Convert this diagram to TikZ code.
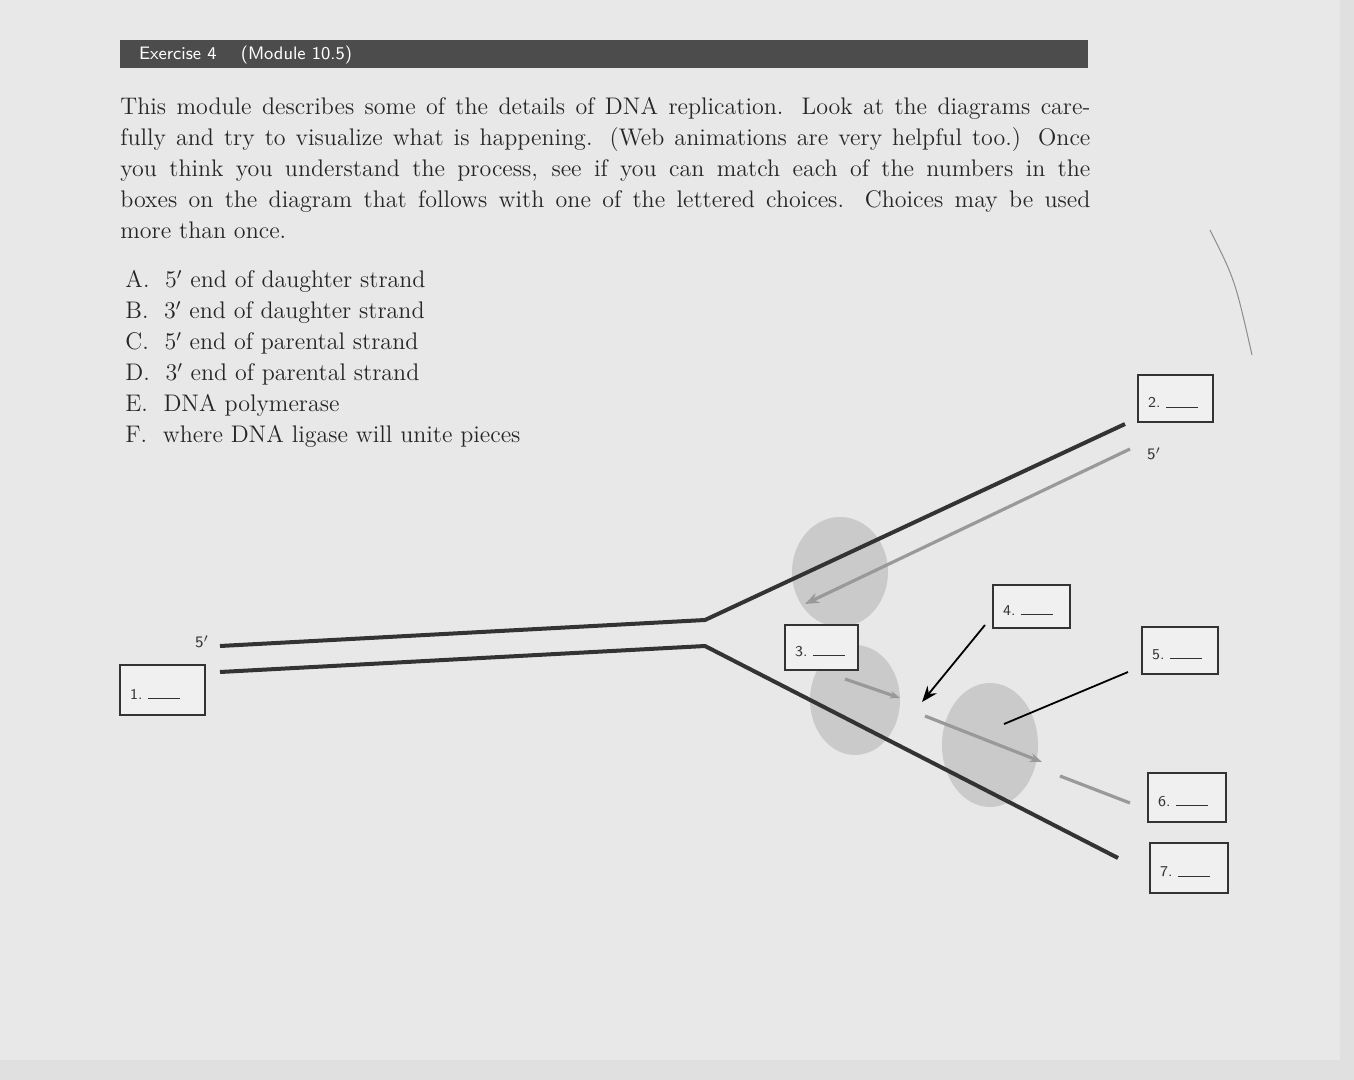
\documentclass[tikz,border=0pt]{standalone}
\usetikzlibrary{arrows.meta}
\begin{document}
\begin{tikzpicture}[x=0.5pt,y=-0.5pt,
 box/.style={draw=black!80,line width=0.8pt,fill=black!6},
 blbl/.style={font=\sffamily\fontsize{7.5}{8}\selectfont,anchor=west,text=black!80},
 par/.style={line width=2pt,draw=black!80},
 dau/.style={line width=1.6pt,draw=black!40},
 blob/.style={fill=black!35,opacity=0.45}]
\useasboundingbox (0,0) rectangle (1354,1080);
\fill[black!12] (0,0) rectangle (1354,1080);
\fill[black!9] (0,0) rectangle (1340,1060);
% header
\fill[black!70] (120,40) rectangle (1088,68);
\node[anchor=west,text=white,font=\sffamily\fontsize{9}{10}\selectfont] (hd) at (132,55) {Exercise 4\quad\ (Module 10.5)};
% paragraph
\node[anchor=north west,text width=485pt,align=justify,inner sep=0pt,font=\fontsize{12}{15.5}\selectfont,text=black!85] (p) at (120,97) {\hbadness=10000 This module describes some of the details of DNA replication. Look at the diagrams care-\linebreak fully and try to visualize what is happening. (Web animations are very helpful too.) Once\linebreak you think you understand the process, see if you can match each of the numbers in the\linebreak boxes on the diagram that follows with one of the lettered choices. Choices may be used\linebreak more than once.};
\node[anchor=north west,align=left,inner sep=0pt,font=\fontsize{12}{15.5}\selectfont,text=black!85] (list) at (125,270) {A.\ \ 5$'$ end of daughter strand\\ B.\ \ 3$'$ end of daughter strand\\ C.\ \ 5$'$ end of parental strand\\ D.\ \ 3$'$ end of parental strand\\ E.\ \ DNA polymerase\\ F.\ \ where DNA ligase will unite pieces};
% blobs
\fill[blob] (840,572) ellipse (48 and 55);
\fill[blob] (855,700) ellipse (45 and 55);
\fill[blob] (990,745) ellipse (48 and 62);
% strands
\coordinate (u0) at (220,646); \coordinate (u1) at (705,620); \coordinate (u2) at (1125,424);
\coordinate (l0) at (220,672); \coordinate (l1) at (705,646); \coordinate (l2) at (1118,858);
\draw[par] (u0) -- (u1) -- (u2);
\draw[par] (l0) -- (l1) -- (l2);
\coordinate (d1a) at (1130,449); \coordinate (d1b) at (805,604);
\draw[dau,-{Stealth[length=7pt]}] (d1a) -- (d1b);
\coordinate (f1a) at (845,679); \coordinate (f1b) at (900,698);
\draw[dau,-{Stealth[length=5pt]}] (f1a) -- (f1b);
\coordinate (f2a) at (925,716); \coordinate (f2b) at (1042,762);
\draw[dau,-{Stealth[length=6pt]}] (f2a) -- (f2b);
\coordinate (f3a) at (1060,776); \coordinate (f3b) at (1130,803);
\draw[dau] (f3a) -- (f3b);
\node[font=\sffamily\fontsize{8}{9}\selectfont,text=black!80] (p5a) at (202,642) {5$'$};
\node[font=\sffamily\fontsize{8}{9}\selectfont,text=black!80] (p5b) at (1154,454) {5$'$};
% boxes
\newcommand{\bx}[5]{\draw[box] (#1,#2) rectangle (#3,#4); \node[blbl] (b#5) at (#1+3,{(#2+#4)/2+4}) {#5.\ \rule{16pt}{0.5pt}};}
\bx{120}{665}{205}{715}{1}
\bx{1138}{375}{1213}{422}{2}
\bx{785}{625}{858}{670}{3}
\bx{993}{585}{1070}{628}{4}
\bx{1142}{627}{1218}{674}{5}
\bx{1148}{773}{1226}{822}{6}
\bx{1150}{843}{1228}{893}{7}
\coordinate (a4a) at (985,625); \coordinate (a4b) at (922,702);
\draw[line width=0.9pt,-{Stealth[length=8pt]}] (a4a) -- (a4b);
\coordinate (a5a) at (1128,672); \coordinate (a5b) at (1004,724);
\draw[line width=0.9pt] (a5a) -- (a5b);
\coordinate (c1) at (1210,230); \coordinate (c2) at (1252,355);
\draw[black!45,line width=0.5pt] (c1) .. controls (1235,280) .. (c2);
\end{tikzpicture}
\end{document}
